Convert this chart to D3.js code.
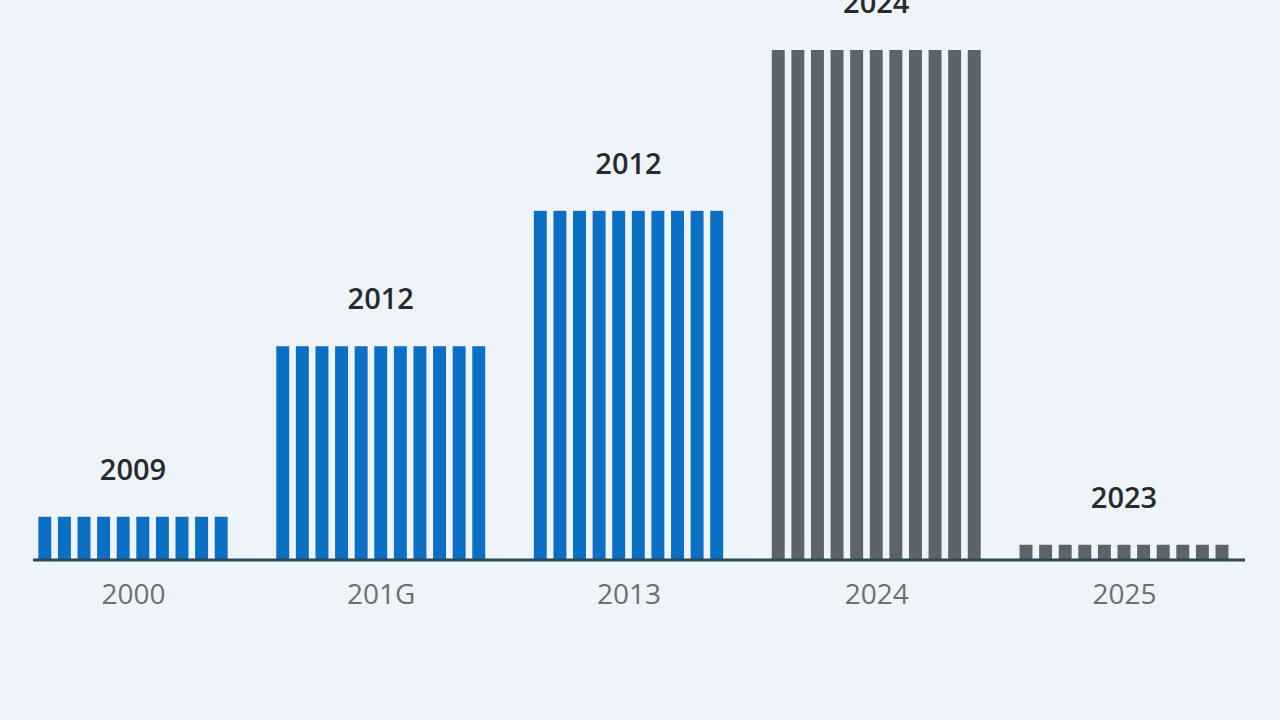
<!DOCTYPE html>
<html>
<head>
<meta charset="utf-8">
<script src="https://cdn.jsdelivr.net/npm/d3@7"></script>
<style>
  html, body { margin: 0; padding: 0; background: #eff4fa; }
  svg { display: block; }
</style>
</head>
<body>
<svg id="chart"></svg>
<script>
// data
var categories = ["2000", "201G", "2013", "2024", "2025"];
var topLabels = ["2009", "2012", "2012", "2024", "2023"];
var values = [8.3, 41.8, 68.4, 100, 2.8];
var stripeCounts = [10, 11, 10, 11, 11];
var groupColors = ["#0b6fc4", "#0b6fc4", "#0b6fc4", "#5b6468", "#5b6468"];

const width = 1280, height = 720;
const margin = {top: 50, right: 35, bottom: 161, left: 33};
const baseY = height - margin.bottom;   // 559
const stripeStep = 19.6;
const stripePad = 0.34;

const svg = d3.select("#chart")
    .attr("width", width)
    .attr("height", height);

svg.append("rect")
    .attr("width", width).attr("height", height)
    .attr("fill", "#eff4fa");

/** group centres */
const x = d3.scalePoint()
    .domain(categories)
    .range([133, 1124]);

/** value axis, no ticks drawn */
const y = d3.scaleLinear()
    .domain([0, 100])
    .range([baseY, margin.top]);

var groups = svg.selectAll(".grp")
    .data(categories)
    .join("g")
    .attr("class", "grp");

groups.each(function(cat, i) {
    var n = stripeCounts[i];
    var w = stripeStep * (n - stripePad);
    // stripes inside one group
    var xs = d3.scaleBand()
        .domain(d3.range(n))
        .range([x(cat) - w / 2, x(cat) + w / 2])
        .paddingInner(stripePad);

    d3.select(this).selectAll("rect")
        .data(d3.range(n))
        .join("rect")
        .attr("x", d => xs(d))
        .attr("width", xs.bandwidth())
        .attr("y", y(values[i]))
        .attr("height", baseY - y(values[i]))
        .attr("fill", groupColors[i]);

    d3.select(this).append("text")
        .attr("x", x(cat))
        .attr("y", y(values[i]) - 37)
        .attr("text-anchor", "middle")
        .style("font-family", "'Open Sans', sans-serif")
        .style("font-size", "29px")
        .style("font-weight", 600)
        .attr("fill", "#262b31")
        .text(topLabels[i]);
});

/** baseline */
svg.append("line")
    .attr("x1", margin.left)
    .attr("x2", width - margin.right)
    .attr("y1", baseY + 1)
    .attr("y2", baseY + 1)
    .attr("stroke", "#2c4858")
    .attr("stroke-width", 3);

/** category axis */
const xAxis = svg.append("g")
    .attr("transform", `translate(0, ${baseY})`)
    .call(d3.axisBottom(x).tickSize(0).tickPadding(0));
xAxis.select(".domain").remove();
xAxis.selectAll("text")
    .attr("dy", null)
    .attr("y", 45)
    .style("font-family", "'Open Sans', sans-serif")
    .style("font-size", "28px")
    .attr("fill", "#6a6f74");
</script>
</body>
</html>
